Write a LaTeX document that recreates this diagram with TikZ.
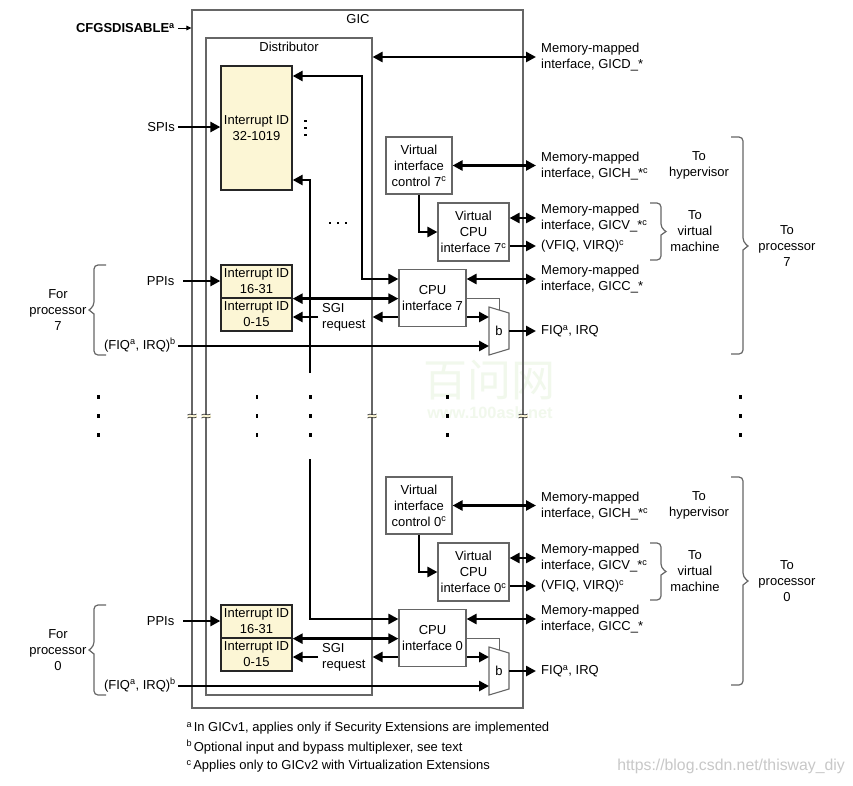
\documentclass[tikz,border=0pt]{standalone}
\usepackage{fontspec}
\setmainfont{Liberation Sans}
\newfontfamily\cjk{Noto Sans CJK SC}
\usetikzlibrary{arrows.meta,calc}
\definecolor{boxgray}{HTML}{666666}
\definecolor{idfill}{HTML}{FCF6D5}
\definecolor{wmgreen}{HTML}{F1F8EC}
\definecolor{wmgray}{HTML}{C8C8C8}
\begin{document}
\begin{tikzpicture}[x=1pt,y=-1pt,
  every node/.style={font=\fontsize{13}{16}\selectfont, text=black},
  box/.style={draw=boxgray, line width=1.1pt, fill=white, inner sep=0pt, align=center},
  idbox/.style={draw=black!85, line width=1.3pt, fill=idfill, inner sep=0pt, align=center, minimum width=71pt},
  gicframe/.style={draw=boxgray, line width=1.1pt, inner sep=0pt},
  lbl/.style={inner sep=0pt, align=center},
  rlbl/.style={inner xsep=5pt, inner ysep=0pt, anchor=west, align=left},
  llbl/.style={inner ysep=0pt, anchor=east},
  arr/.style={line width=2.6pt, -{Triangle[length=10pt,width=10pt]}},
  darr/.style={line width=2.6pt, {Triangle[length=10pt,width=10pt]}-{Triangle[length=10pt,width=10pt]}},
  selline/.style={draw=boxgray, line width=1pt},
  brc/.style={draw=boxgray, line width=1.2pt},
  dotsq/.style={fill=black},
  brk/.style={draw=black!80, line width=0.7pt},
]
\fill[white] (0,0) rectangle (853,785);
\useasboundingbox (0,0) rectangle (853,785);

% watermarks
\node[text=wmgreen, font=\cjk\fontsize{44}{44}\selectfont, inner sep=0pt] (wm1) at (489,380) {百问网};
\node[text=wmgreen, font=\bfseries\fontsize{16.3}{18}\selectfont, inner sep=0pt] (wm2) at (490,413) {www.100ask.net};
\node[text=wmgray, font=\fontsize{15.8}{18}\selectfont, inner sep=0pt] (wm3) at (731,766) {https://blog.csdn.net/thisway\_diy};

% frames
\node[gicframe, minimum width=331pt, minimum height=698pt] (gic) at (357.5,359) {};
\node[lbl] (gicl) at (358,19) {GIC};
\node[gicframe, minimum width=166pt, minimum height=657pt] (dist) at (289,366.5) {};
\node[lbl] (distl) at (289,47) {Distributor};

% config input
\node[llbl, inner xsep=3pt, font=\bfseries\fontsize{13}{16}\selectfont] (cfg) at (178,28) {CFGSDISABLE\textsuperscript{a}};
\draw[line width=1pt, -{Triangle[length=5pt,width=4.5pt]}] (cfg.east) -- (cfg.east -| gic.west);

% SPIs
\node[idbox, minimum height=124pt] (id32) at (256.5,128) {Interrupt ID\\32-1019};
\node[llbl, inner xsep=3pt] (spi) at (178,127) {SPIs};
\draw[arr] (spi.east) -- (spi.east -| id32.west);

% distributor memory interface
\node[rlbl] (gicd) at (536,57) {Memory-mapped\\interface, GICD\_*};
\draw[darr] (dist.east |- gicd.west) -- (gicd.west);

% dots near SPI box
\foreach \yy in {121,128,135} \fill[dotsq] (304.3,\yy-1.3) rectangle (306.7,\yy+1.3);
\foreach \xx in {330,338,346} \fill[dotsq] (\xx-1.2,221.5) rectangle (\xx+1.2,223.9);

% processor blocks
\foreach \p/\o in {7/0,0/340}{
  \node[idbox, minimum height=33pt] (idh\p) at (256.5,281.5+\o) {Interrupt ID\\16-31};
  \node[idbox, minimum height=33pt] (idl\p) at (256.5,314.5+\o) {Interrupt ID\\0-15};
  \node[box, minimum width=66pt, minimum height=57pt] (vic\p) at (419,165.5+\o) {Virtual\\interface\\control \p\textsuperscript{c}};
  \node[box, minimum width=71pt, minimum height=58pt] (vcpu\p) at (473.5,232+\o) {Virtual\\CPU\\interface \p\textsuperscript{c}};
  \node[box, minimum width=67pt, minimum height=57pt] (cpu\p) at (432.5,298+\o) {CPU\\interface \p};
  % multiplexer
  \draw[box] (489,307+\o) -- (509,313+\o) -- (509,349+\o) -- (489,355+\o) -- cycle;
  \node[lbl] (mux\p) at (499,331+\o) {b};
  \coordinate (muxA\p) at (489,317+\o);
  \coordinate (muxB\p) at (489,346+\o);
  \coordinate (muxR\p) at (509,331+\o);
  \coordinate (muxT\p) at (499,310+\o);
  % right labels
  \node[rlbl] (gich\p) at (536,166+\o) {Memory-mapped\\interface, GICH\_*\textsuperscript{c}};
  \node[rlbl] (gicv\p) at (536,218+\o) {Memory-mapped\\interface, GICV\_*\textsuperscript{c}};
  \node[rlbl] (virq\p) at (536,246+\o) {(VFIQ, VIRQ)\textsuperscript{c}};
  \node[rlbl] (gicc\p) at (536,279+\o) {Memory-mapped\\interface, GICC\_*};
  \node[rlbl] (fiq\p) at (536,331+\o) {FIQ\textsuperscript{a}, IRQ};
  \node[lbl] (hyp\p) at (699,165+\o) {To\\hypervisor};
  \node[lbl] (vm\p) at (695,231.5+\o) {To\\virtual\\machine};
  % left labels
  \node[llbl, inner xsep=8.5pt] (ppi\p) at (183,281+\o) {PPIs};
  \node[llbl, inner xsep=2pt] (fiqin\p) at (178,345+\o) {(FIQ\textsuperscript{a}, IRQ)\textsuperscript{b}};
  \node[lbl] (forp\p) at (58,310+\o) {For\\processor\\\p};
  \node[lbl, align=left, anchor=west, inner xsep=4pt] (sgi\p) at (318,317+\o) {SGI\\request};
  % connectors
  \draw[darr] (vic\p.east) -- (vic\p.east -| gich\p.west);
  \draw[darr] (vcpu\p.east |- gicv\p.west) -- (gicv\p.west);
  \draw[arr] (vcpu\p.east |- virq\p.west) -- (virq\p.west);
  \draw[darr] (cpu\p.east |- gicc\p.west) -- (gicc\p.west);
  \draw[arr] (muxR\p) -- (muxR\p -| fiq\p.west);
  \draw[arr] (vic\p.south) |- (vcpu\p.west);
  \draw[arr] (cpu\p.east |- muxA\p) -- (muxA\p);
  \draw[selline] (cpu\p.east) -| (muxT\p);
  \draw[arr] (fiqin\p.east |- muxB\p) -- (muxB\p);
  \draw[arr] (ppi\p.east) -- (ppi\p.east -| idh\p.west);
  \draw[darr] (idh\p.south east) -- (idh\p.south east -| cpu\p.west);
  \draw[arr] (sgi\p.west) -- (sgi\p.west -| idl\p.east);
  \draw[arr] (cpu\p.west |- sgi\p.west) -- (dist.east |- sgi\p.west);
  % braces
  \draw[brc, rounded corners=4pt] (106,265+\o) -- (94,265+\o) -- (94,306+\o) [sharp corners] -- (89,310+\o) -- (94,314+\o) [rounded corners=4pt] -- (94,355+\o) -- (106,355+\o);
  \draw[brc, rounded corners=4pt] (650,203+\o) -- (661,203+\o) -- (661,228+\o) [sharp corners] -- (666,231.5+\o) -- (661,235+\o) [rounded corners=4pt] -- (661,260+\o) -- (650,260+\o);
}

% processor 7 big brace
\draw[brc, rounded corners=4pt] (731,137) -- (743,137) -- (743,242) [sharp corners] -- (748,246) -- (743,250) [rounded corners=4pt] -- (743,354) -- (731,354);
\node[lbl] (top7) at (787,246) {To\\processor\\7};
% processor 0 big brace
\draw[brc, rounded corners=4pt] (731,477) -- (743,477) -- (743,577) [sharp corners] -- (748,581) -- (743,585) [rounded corners=4pt] -- (743,685) -- (731,685);
\node[lbl] (top0) at (787,581) {To\\processor\\0};

% connectors from SPI block to CPU interfaces
\coordinate (b7a) at (362,279);
\coordinate (b7b) at (362,76);
\draw[darr] (id32.east |- b7b) -- (b7b) -- (b7a) -- (cpu7.west |- b7a);
\coordinate (b0b) at (310,180);
\coordinate (b0c) at (310,373);
\coordinate (b0d) at (310,459);
\coordinate (b0a) at (310,619);
\draw[arr] (b0c) -- (b0b) -- (id32.east |- b0b);
\draw[arr] (b0d) -- (b0a) -- (cpu0.west |- b0a);

% continuation dots
\foreach \xx in {98.3,256.7,310.5,447.5,740.5}{
  \foreach \yy in {397,416,435} \fill[dotsq] (\xx-1.2,\yy-2.2) rectangle (\xx+1.2,\yy+2.2);
}
% break marks
\foreach \xx in {192,206,372,523}{
  \fill[idfill] (\xx-4.5,414.5) rectangle (\xx+4.5,417.5);
  \draw[brk] (\xx-4.5,415) .. controls (\xx-1.5,412.5) and (\xx+1.5,416.5) .. (\xx+4.5,414);
  \draw[brk] (\xx-4.5,418) .. controls (\xx-1.5,415.5) and (\xx+1.5,419.5) .. (\xx+4.5,417);
}

% footnotes
\node[anchor=west, inner sep=0pt] (fna) at (186.5,728) {\textsuperscript{a}\hspace{1.5pt}In GICv1, applies only if Security Extensions are implemented};
\node[anchor=west, inner sep=0pt] (fnb) at (186.5,747) {\textsuperscript{b}\hspace{1.5pt}Optional input and bypass multiplexer, see text};
\node[anchor=west, inner sep=0pt] (fnc) at (186.5,766) {\textsuperscript{c}\hspace{1.5pt}Applies only to GICv2 with Virtualization Extensions};
\end{tikzpicture}
\end{document}
